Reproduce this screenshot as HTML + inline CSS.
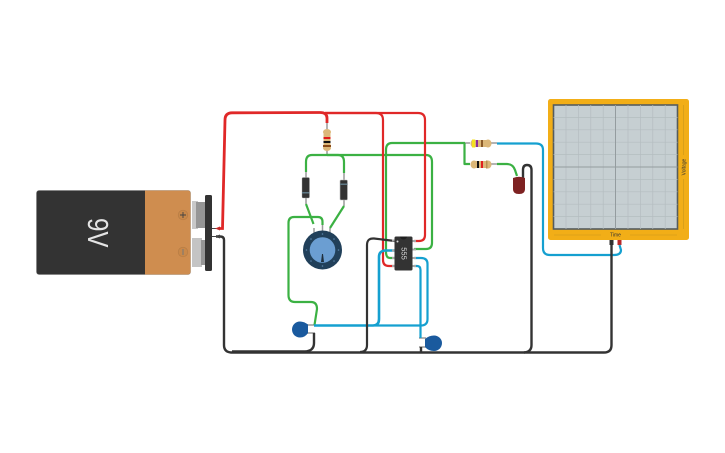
<!DOCTYPE html>
<html><head><meta charset="utf-8"><style>html,body{margin:0;padding:0;background:#fff}svg{display:block}text{font-family:"Liberation Sans",sans-serif}</style></head>
<body>
<svg width="725" height="453" viewBox="0 0 725 453" xmlns="http://www.w3.org/2000/svg">
<!-- Oscilloscope -->
<rect x="548" y="99" width="141" height="141" rx="2.5" fill="#f2ae17"/>
<rect x="553.5" y="105" width="124" height="124" fill="#c6cfd2" stroke="#555c5e" stroke-width="1.6"/>
<g stroke="#b4bdc0" stroke-width=".7">
<path d="M566 105V229M578.4 105V229M590.8 105V229M603.2 105V229M628 105V229M640.4 105V229M652.8 105V229M665.2 105V229M553.5 117.4H677.5M553.5 129.8H677.5M553.5 142.2H677.5M553.5 154.6H677.5M553.5 179.4H677.5M553.5 191.8H677.5M553.5 204.2H677.5M553.5 216.6H677.5"/></g>
<path d="M615.5 105V229M553.5 167H677.5" stroke="#949c9f" stroke-width="1"/>
<path d="M554 235H601M630 235H677M683.5 105V155M683.5 179V229" stroke="#c8961c" stroke-width=".6" fill="none"/>
<text x="615.5" y="236.5" font-size="5" text-anchor="middle" fill="#333">Time</text>
<text transform="translate(685.5 167) rotate(-90)" font-size="5" text-anchor="middle" fill="#333">Voltage</text>
<rect x="609.5" y="240" width="4" height="5" fill="#2f2f2f"/>
<rect x="617.5" y="240" width="4" height="5" fill="#b82828"/>

<!-- Battery -->
<rect x="192" y="201" width="6" height="28" fill="#c8c8c8"/>
<rect x="196" y="202" width="10" height="26" fill="#969696"/>
<rect x="192" y="238" width="10" height="29" fill="#c4c4c4"/>
<rect x="201" y="240" width="5" height="25" fill="#969696"/>
<rect x="205" y="195" width="7" height="76" rx="1.5" fill="#333"/>
<rect x="36.500" y="190.500" width="154" height="84" rx="2.500" fill="#333" stroke="#777" stroke-width=".5"/>
<path d="M145 190.500H188a2.500 2.500 0 0 1 2.500 2.500V272a2.500 2.500 0 0 1-2.500 2.500H145Z" fill="#cf8d4f"/>
<circle cx="183" cy="215" r="4.800" fill="#c98849" stroke="#b47b45" stroke-width=".6"/>
<circle cx="183" cy="252" r="4.800" fill="#c98849" stroke="#b47b45" stroke-width=".6"/>
<path d="M180 215H186M183 212V218" stroke="#444" stroke-width=".9"/>
<path d="M183 249V255" stroke="#777" stroke-width="1"/>
<text transform="translate(88 218) rotate(90)" font-size="29" textLength="29.500" lengthAdjust="spacingAndGlyphs" fill="#e4e4e4">9V</text>
<path d="M212 228.500L216 228.500M212 236.500L216 236.500" stroke="#444" stroke-width="1"/>

<!-- Wire leads -->
<g stroke="#9a9a9a" stroke-width="1.500" fill="none">
<path d="M327 123V129M327 150V156M306 172V178M306 198V204M344 173V180M344 200V206M491 143H497M491 164H497M465 143H470M465 164H470"/>
<path d="M314 228V233M322.500 225V231M330 228V233M306 325H315M306 333H315M419 338H426M419 347H426"/>
</g>

<!-- Green wires -->
<g fill="none" stroke="#3bb143" stroke-width="2.200" stroke-linejoin="round">
<path d="M327 155H312Q306 155 306 162V172"/>
<path d="M327 155H338Q344 155 344 162V173"/>
<path d="M327 155H426Q432 155 432 162V243Q432 249 426 249H414"/>
<path d="M465 143H392Q386 143 386 150V252Q386 258 390 258H395"/>
<path d="M464.500 143V164H470"/>
<path d="M497 164H507Q513 164 515 170L517 176"/>
<path d="M306 204L313.500 224"/>
<path d="M344 206L330 228"/>
<path d="M322.500 225V222Q322.500 217 318 217H294Q288.500 217 288.500 223V295Q288.500 302 295 302H311Q317 302 317 309L314.500 325"/>
</g>

<!-- Red wires -->
<g fill="none" stroke="#e02828" stroke-width="2.200">
<path d="M219 228.500H222.500L225 120Q225 113 232 112.800L320 112.500Q327 112.500 327 118V123" stroke-width="2.800"/>
<path d="M325 113H376Q383 113 383 120V260Q383 266 389 266H395"/>
<path d="M325 113H418Q425 113 425 120V235Q425 241 419 241H414"/>
</g>

<!-- Blue wires -->
<g fill="none" stroke="#15a0d0" stroke-width="2.200">
<path d="M314 325.500H373Q379 325.500 379 319V257Q379 251 385 250.500H395" stroke-width="2.600"/>
<path d="M375 325.500H421Q427.500 325.500 427.500 319V264Q427.500 258 421 258H414"/>
<path d="M414 266H417Q420.500 266 420.500 270V338"/>
<path d="M497 143.500H536Q543 143.500 543 150V248Q543 255 550 255H614Q621 255 621 250L619.500 245"/>
</g>

<!-- Black wires -->
<g fill="none" stroke="#333" stroke-width="2.400">
<path d="M216 236.500H220Q224 236.500 224 240V345Q224 352 231 352.500H604Q611.500 352.500 611.500 345V245"/>
<path d="M314 333V343Q314 351 305 351.500H232"/>
<path d="M360 352Q367 352 367 345V245Q367 238 374 238.500L395 241" stroke-width="2.200"/>
<path d="M421 347V352.500"/>
<path d="M523 178V170Q523 165 527 165Q531.500 165 531.500 170V345Q531.500 352 524 352.500"/>
</g>

<!-- Probe tips -->
<path d="M215 228.500L220 226.500V230.500Z" fill="#c62828"/>
<path d="M215 236.500L220 234.500V238.500Z" fill="#444"/>

<!-- Vertical resistor -->
<rect x="323.500" y="130" width="7" height="20" rx="2" fill="#dcb778"/>
<ellipse cx="327" cy="132" rx="4" ry="3" fill="#dcb778"/>
<ellipse cx="327" cy="148" rx="4" ry="3" fill="#dcb778"/>
<rect x="323.500" y="137" width="7" height="2" fill="#e01818"/>
<rect x="323.500" y="141" width="7" height="2" fill="#111"/>
<rect x="323" y="145" width="8" height="2" fill="#8a4a18"/>

<!-- Horizontal resistors -->
<rect x="472" y="140" width="18" height="7" rx="2" fill="#dcb778"/>
<ellipse cx="474" cy="143.500" rx="3.500" ry="4" fill="#dcb778"/>
<ellipse cx="488" cy="143.500" rx="3.500" ry="4" fill="#dcb778"/>
<rect x="472" y="139.500" width="3" height="8" fill="#f4e020"/>
<rect x="476" y="140" width="2" height="7" fill="#8c2c9c"/>
<rect x="481" y="140" width="2" height="7" fill="#8a5a28"/>
<rect x="472" y="161" width="18" height="7" rx="2" fill="#dcb778"/>
<ellipse cx="474" cy="164.500" rx="3.500" ry="4" fill="#dcb778"/>
<ellipse cx="488" cy="164.500" rx="3.500" ry="4" fill="#dcb778"/>
<rect x="477" y="161" width="2" height="7" fill="#111"/>
<rect x="481" y="161" width="2" height="7" fill="#e02020"/>
<rect x="486" y="160.500" width="1.500" height="8" fill="#b89050"/>

<!-- Diodes -->
<rect x="302" y="177.500" width="7.500" height="20.500" rx="1" fill="#333" stroke="#aaa" stroke-width=".4"/>
<rect x="302" y="192" width="7.500" height="1.500" fill="#5f7885"/>
<rect x="340" y="180" width="7.500" height="20" rx="1" fill="#333" stroke="#bbb" stroke-width=".6"/>
<rect x="340" y="183.500" width="7.500" height="1.500" fill="#5f7885"/>

<!-- Potentiometer -->
<circle cx="322.500" cy="250" r="19.500" fill="#21405a"/>
<circle cx="322.500" cy="250" r="12.800" fill="#6b9ed2"/>
<path d="M321 262L322 254H323L324 262Z" fill="#1f2f3d"/>
<g fill="#5a82a8"><circle cx="322.500" cy="234" r=".8"/><circle cx="322.500" cy="266" r=".8"/><circle cx="306.500" cy="250" r=".8"/><circle cx="338.500" cy="250" r=".8"/><circle cx="311" cy="239" r=".8"/><circle cx="334" cy="239" r=".8"/><circle cx="311" cy="261" r=".8"/><circle cx="334" cy="261" r=".8"/></g>

<!-- 555 -->
<g stroke="#a8a8a8" stroke-width="2"><path d="M392 240.500H396M392 250.500H396M392 258H396M392 266H396M412 241H416M412 249.500H416M412 258H416M412 266H416"/></g>
<rect x="394.500" y="236.500" width="18" height="34" rx="1.500" fill="#333"/>
<path d="M400 236.500a3.500 3 0 0 0 7 0Z" fill="#1f1f1f"/>
<circle cx="397.500" cy="241.500" r="1" fill="#ddd"/>
<text transform="translate(401.500 253.500) rotate(90)" font-size="7.500" text-anchor="middle" fill="#ddd">555</text>

<!-- Capacitors -->
<path d="M308 324.500Q304 321.500 300 321.500C295.500 321.500 292 325 292 329.500C292 334 295.500 337.500 300 337.500Q305 337.500 308 333Z" fill="#1a5a9e"/>
<path d="M425 339Q429 335.500 434 335.500C438.500 335.500 442 339 442 343C442 347.500 438.500 351 434 351Q428.500 351 425 347Z" fill="#1a5a9e"/>

<!-- LED -->
<path d="M513 178Q519 175.500 525 178V189Q525 194 519 194Q513 194 513 189Z" fill="#7e2222"/>
</svg>
</body></html>
